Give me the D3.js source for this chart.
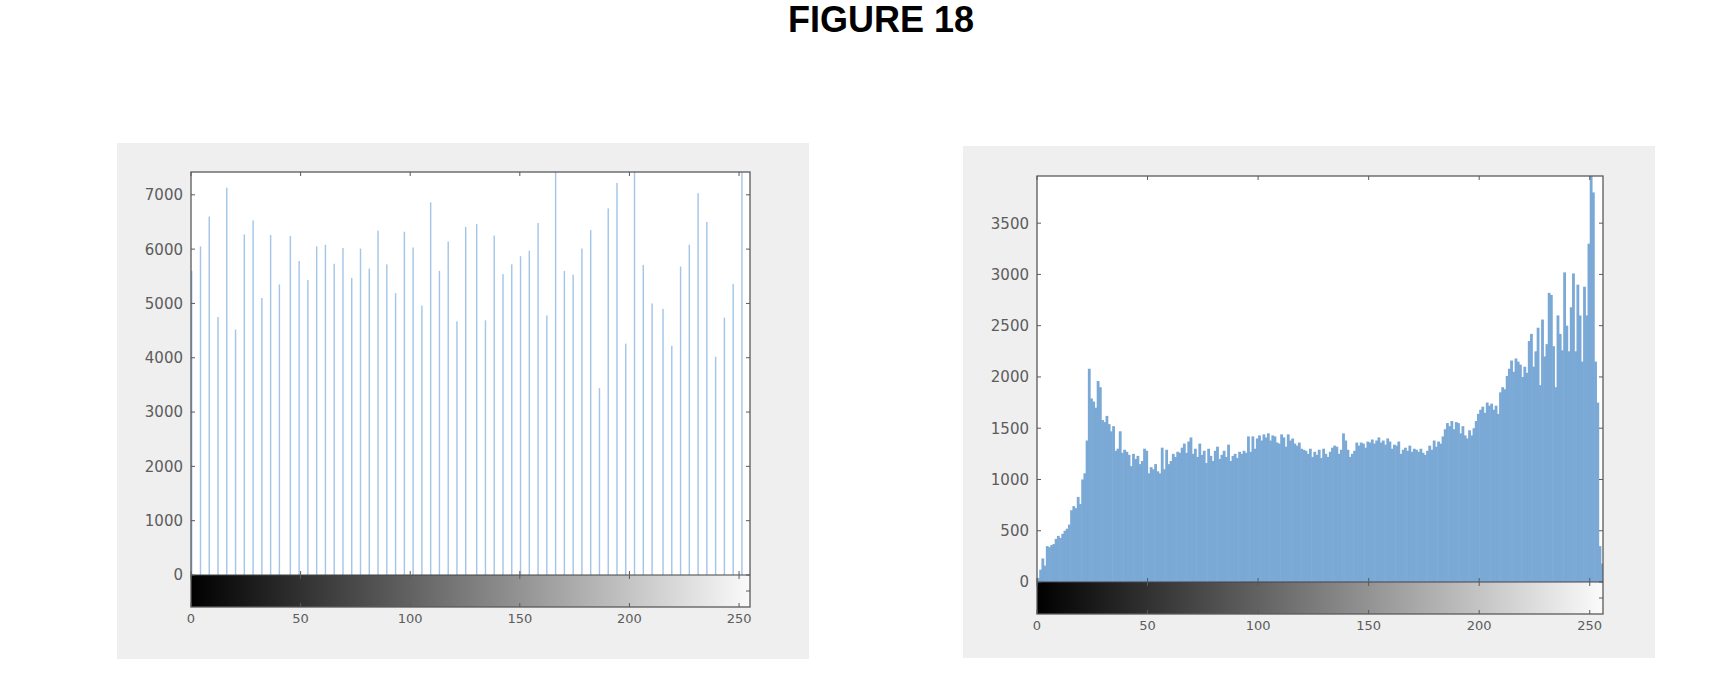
<!DOCTYPE html>
<html>
<head>
<meta charset="utf-8">
<script src="https://cdn.jsdelivr.net/npm/d3@7"></script>
<style>
  body { margin: 0; background: #fff; }
  text { font-family: "DejaVu Sans", sans-serif; }
</style>
</head>
<body>
<svg id="chart"></svg>
<script>
// ---- data ----
var leftLevels = [0, 4, 8, 12, 16, 20, 24, 28, 32, 36, 40, 45, 49, 53, 57, 61, 65, 69, 73, 77, 81, 85, 89, 93,
  97, 101, 105, 109, 113, 117, 121, 125, 130, 134, 138, 142, 146, 150, 154, 158, 162, 166, 170, 174, 178, 182,
  186, 190, 194, 198, 202, 206, 210, 215, 219, 223, 227, 231, 235, 239, 243, 247, 251, 255];
var leftCounts = [5600, 6050, 6600, 4750, 7130, 4520, 6270, 6530, 5100, 6260,
  5350, 6240, 5780, 5430, 6050, 6080, 5730, 6020, 5470, 6010,
  5640, 6340, 5720, 5190, 6320, 6030, 4960, 6860, 5600, 6140,
  4670, 6410, 6460, 4690, 6250, 5540, 5720, 5870, 5970, 6480,
  4780, 7900, 5600, 5530, 6010, 6350, 3440, 6750, 7220, 4260,
  7700, 5710, 5000, 4900, 4220, 5680, 6080, 7030, 6500, 4020,
  4740, 5360, 7600, 6300];

var rightBins = d3.range(256);
var rightCounts = [40, 120, 230, 160, 350, 340, 360, 370, 420, 450,
  430, 470, 500, 520, 560, 700, 740, 720, 830, 760,
  1000, 1060, 1380, 2080, 1790, 1760, 1700, 1960, 1900, 1580,
  1560, 1620, 1540, 1470, 1520, 1280, 1300, 1470, 1260, 1290,
  1270, 1240, 1130, 1250, 1200, 1230, 1150, 1180, 1300, 1280,
  1060, 1120, 1100, 1150, 1080, 1060, 1310, 1100, 1290, 1150,
  1180, 1250, 1220, 1270, 1260, 1310, 1350, 1260, 1370, 1410,
  1250, 1300, 1220, 1350, 1240, 1280, 1160, 1300, 1230, 1180,
  1280, 1320, 1200, 1240, 1280, 1220, 1340, 1180, 1230, 1250,
  1210, 1270, 1250, 1280, 1260, 1420, 1270, 1420, 1300, 1400,
  1430, 1380, 1440, 1410, 1450, 1380, 1430, 1420, 1360, 1350,
  1440, 1410, 1320, 1440, 1380, 1400, 1350, 1330, 1360, 1300,
  1290, 1280, 1250, 1300, 1220, 1270, 1240, 1290, 1210, 1300,
  1250, 1220, 1270, 1310, 1330, 1320, 1250, 1290, 1450, 1380,
  1290, 1220, 1250, 1280, 1360, 1330, 1360, 1350, 1310, 1370,
  1360, 1390, 1350, 1380, 1410, 1360, 1380, 1340, 1400, 1370,
  1300, 1340, 1330, 1370, 1250, 1290, 1310, 1280, 1330, 1270,
  1300, 1290, 1270, 1300, 1260, 1240, 1280, 1330, 1290, 1380,
  1320, 1370, 1350, 1420, 1490, 1550, 1520, 1570, 1490, 1560,
  1550, 1450, 1520, 1430, 1400, 1480, 1430, 1500, 1570, 1640,
  1680, 1710, 1650, 1750, 1720, 1740, 1680, 1720, 1640, 1850,
  1900, 1880, 2010, 2080, 2160, 2050, 2180, 2150, 2120, 2000,
  2100, 2040, 2350, 2420, 2100, 2250, 2480, 1920, 2560, 2200,
  2320, 2820, 2800, 2300, 1900, 2600, 2420, 2260, 3020, 2500,
  2250, 2680, 3010, 2250, 2900, 2600, 2150, 2880, 2600, 3300,
  3960, 3800, 2150, 1750, 350, 180];

var xTicks = [0, 50, 100, 150, 200, 250];
var leftYTicks = [0, 1000, 2000, 3000, 4000, 5000, 6000, 7000];
var rightYTicks = [0, 500, 1000, 1500, 2000, 2500, 3000, 3500];

var svg = d3.select("#chart").attr("width", 1730).attr("height", 700);
svg.append("rect").attr("width", 1730).attr("height", 700).attr("fill", "#fff");

svg.append("text")
  .attr("x", 881).attr("y", 32)
  .attr("text-anchor", "middle")
  .style("font-family", "'Liberation Sans', Arial, sans-serif")
  .style("font-weight", "bold")
  .style("font-size", "36px")
  .attr("fill", "#000")
  .text("FIGURE 18");

var defs = svg.append("defs");

function drawPanel(p) {
  var g = svg.append("g");

  // grey figure background
  g.append("rect")
    .attr("x", p.bg[0]).attr("y", p.bg[1])
    .attr("width", p.bg[2]).attr("height", p.bg[3])
    .attr("fill", "#efefef");

  var x = d3.scaleLinear().domain(p.xDomain).range([p.left, p.right]);
  var y = d3.scaleLinear().domain([0, p.yMax]).range([p.zero, p.top]);

  g.append("rect")
    .attr("x", p.left).attr("y", p.top)
    .attr("width", p.right - p.left).attr("height", p.bottom - p.top)
    .attr("fill", "#fff");

  defs.append("clipPath").attr("id", p.id + "-clip")
    .append("rect")
    .attr("x", p.left).attr("y", p.top)
    .attr("width", p.right - p.left).attr("height", p.zero - p.top);

  var bars = g.append("g").attr("clip-path", "url(#" + p.id + "-clip)");
  bars.selectAll("rect")
    .data(p.bins)
    .enter().append("rect")
    .attr("x", function(d) { return x(d); })
    .attr("y", function(d, i) { return y(p.counts[i]); })
    .attr("width", p.barWidth(x))
    .attr("height", function(d, i) { return p.zero - y(p.counts[i]); })
    .attr("fill", p.colour);

  // greyscale colour bar under the histogram
  var grad = defs.append("linearGradient").attr("id", p.id + "-grad")
    .attr("gradientUnits", "userSpaceOnUse")
    .attr("x1", x(0)).attr("x2", x(255)).attr("y1", 0).attr("y2", 0);
  grad.append("stop").attr("offset", "0%").attr("stop-color", "#000");
  grad.append("stop").attr("offset", "100%").attr("stop-color", "#fafafa");
  g.append("rect")
    .attr("x", p.left).attr("y", p.zero)
    .attr("width", p.right - p.left).attr("height", p.bottom - p.zero)
    .attr("fill", "url(#" + p.id + "-grad)");

  // frame
  var spine = "#5a5a5a";
  g.append("rect")
    .attr("x", p.left).attr("y", p.top)
    .attr("width", p.right - p.left).attr("height", p.bottom - p.top)
    .attr("fill", "none").attr("stroke", spine).attr("stroke-width", 1.3);
  g.append("line")
    .attr("x1", p.left).attr("x2", p.right)
    .attr("y1", p.zero).attr("y2", p.zero)
    .attr("stroke", "#444").attr("stroke-width", 1.2);

  // y ticks, inward on both sides
  var tl = 4;
  p.yTicks.forEach(function(t) {
    var yy = y(t);
    g.append("line").attr("x1", p.left).attr("x2", p.left + tl)
      .attr("y1", yy).attr("y2", yy).attr("stroke", spine);
    g.append("line").attr("x1", p.right).attr("x2", p.right - tl)
      .attr("y1", yy).attr("y2", yy).attr("stroke", spine);
    g.append("text")
      .attr("x", p.left - 8).attr("y", yy)
      .attr("dy", "0.36em")
      .attr("text-anchor", "end")
      .style("font-size", "15px")
      .attr("fill", "#5c5c5c")
      .text(t);
  });

  // x ticks: top spine, both sides of the zero line, bottom of the colour bar
  xTicks.forEach(function(t) {
    var xx = x(t);
    g.append("line").attr("x1", xx).attr("x2", xx)
      .attr("y1", p.top).attr("y2", p.top + tl).attr("stroke", spine);
    g.append("line").attr("x1", xx).attr("x2", xx)
      .attr("y1", p.zero - tl).attr("y2", p.zero + tl).attr("stroke", spine);
    g.append("line").attr("x1", xx).attr("x2", xx)
      .attr("y1", p.bottom).attr("y2", p.bottom - tl).attr("stroke", spine);
    g.append("text")
      .attr("x", xx).attr("y", p.bottom + 11)
      .attr("dy", "0.36em")
      .attr("text-anchor", "middle")
      .style("font-size", "13px")
      .attr("fill", "#5c5c5c")
      .text(t);
  });

  // small tick on the colour bar's right side
  var mid = (p.zero + p.bottom) / 2;
  g.append("line").attr("x1", p.right).attr("x2", p.right - tl)
    .attr("y1", mid).attr("y2", mid).attr("stroke", spine);
}

drawPanel({
  id: "left",
  bg: [117, 143, 692, 516],
  left: 191, right: 750, top: 172, zero: 575, bottom: 607,
  xDomain: [0, 255], yMax: 7420,
  bins: leftLevels, counts: leftCounts,
  barWidth: function(x) { return (x(1) - x(0)) * 0.65; },
  colour: "#a3c5e8",
  yTicks: leftYTicks
});

drawPanel({
  id: "right",
  bg: [963, 146, 692, 512],
  left: 1037, right: 1603, top: 176, zero: 582, bottom: 614,
  xDomain: [0, 256], yMax: 3960,
  bins: rightBins, counts: rightCounts,
  // slight overlap so neighbouring bins read as one filled area
  barWidth: function(x) { return x(1) - x(0) + 0.6; },
  colour: "#7ba9d6",
  yTicks: rightYTicks
});
</script>
</body>
</html>
